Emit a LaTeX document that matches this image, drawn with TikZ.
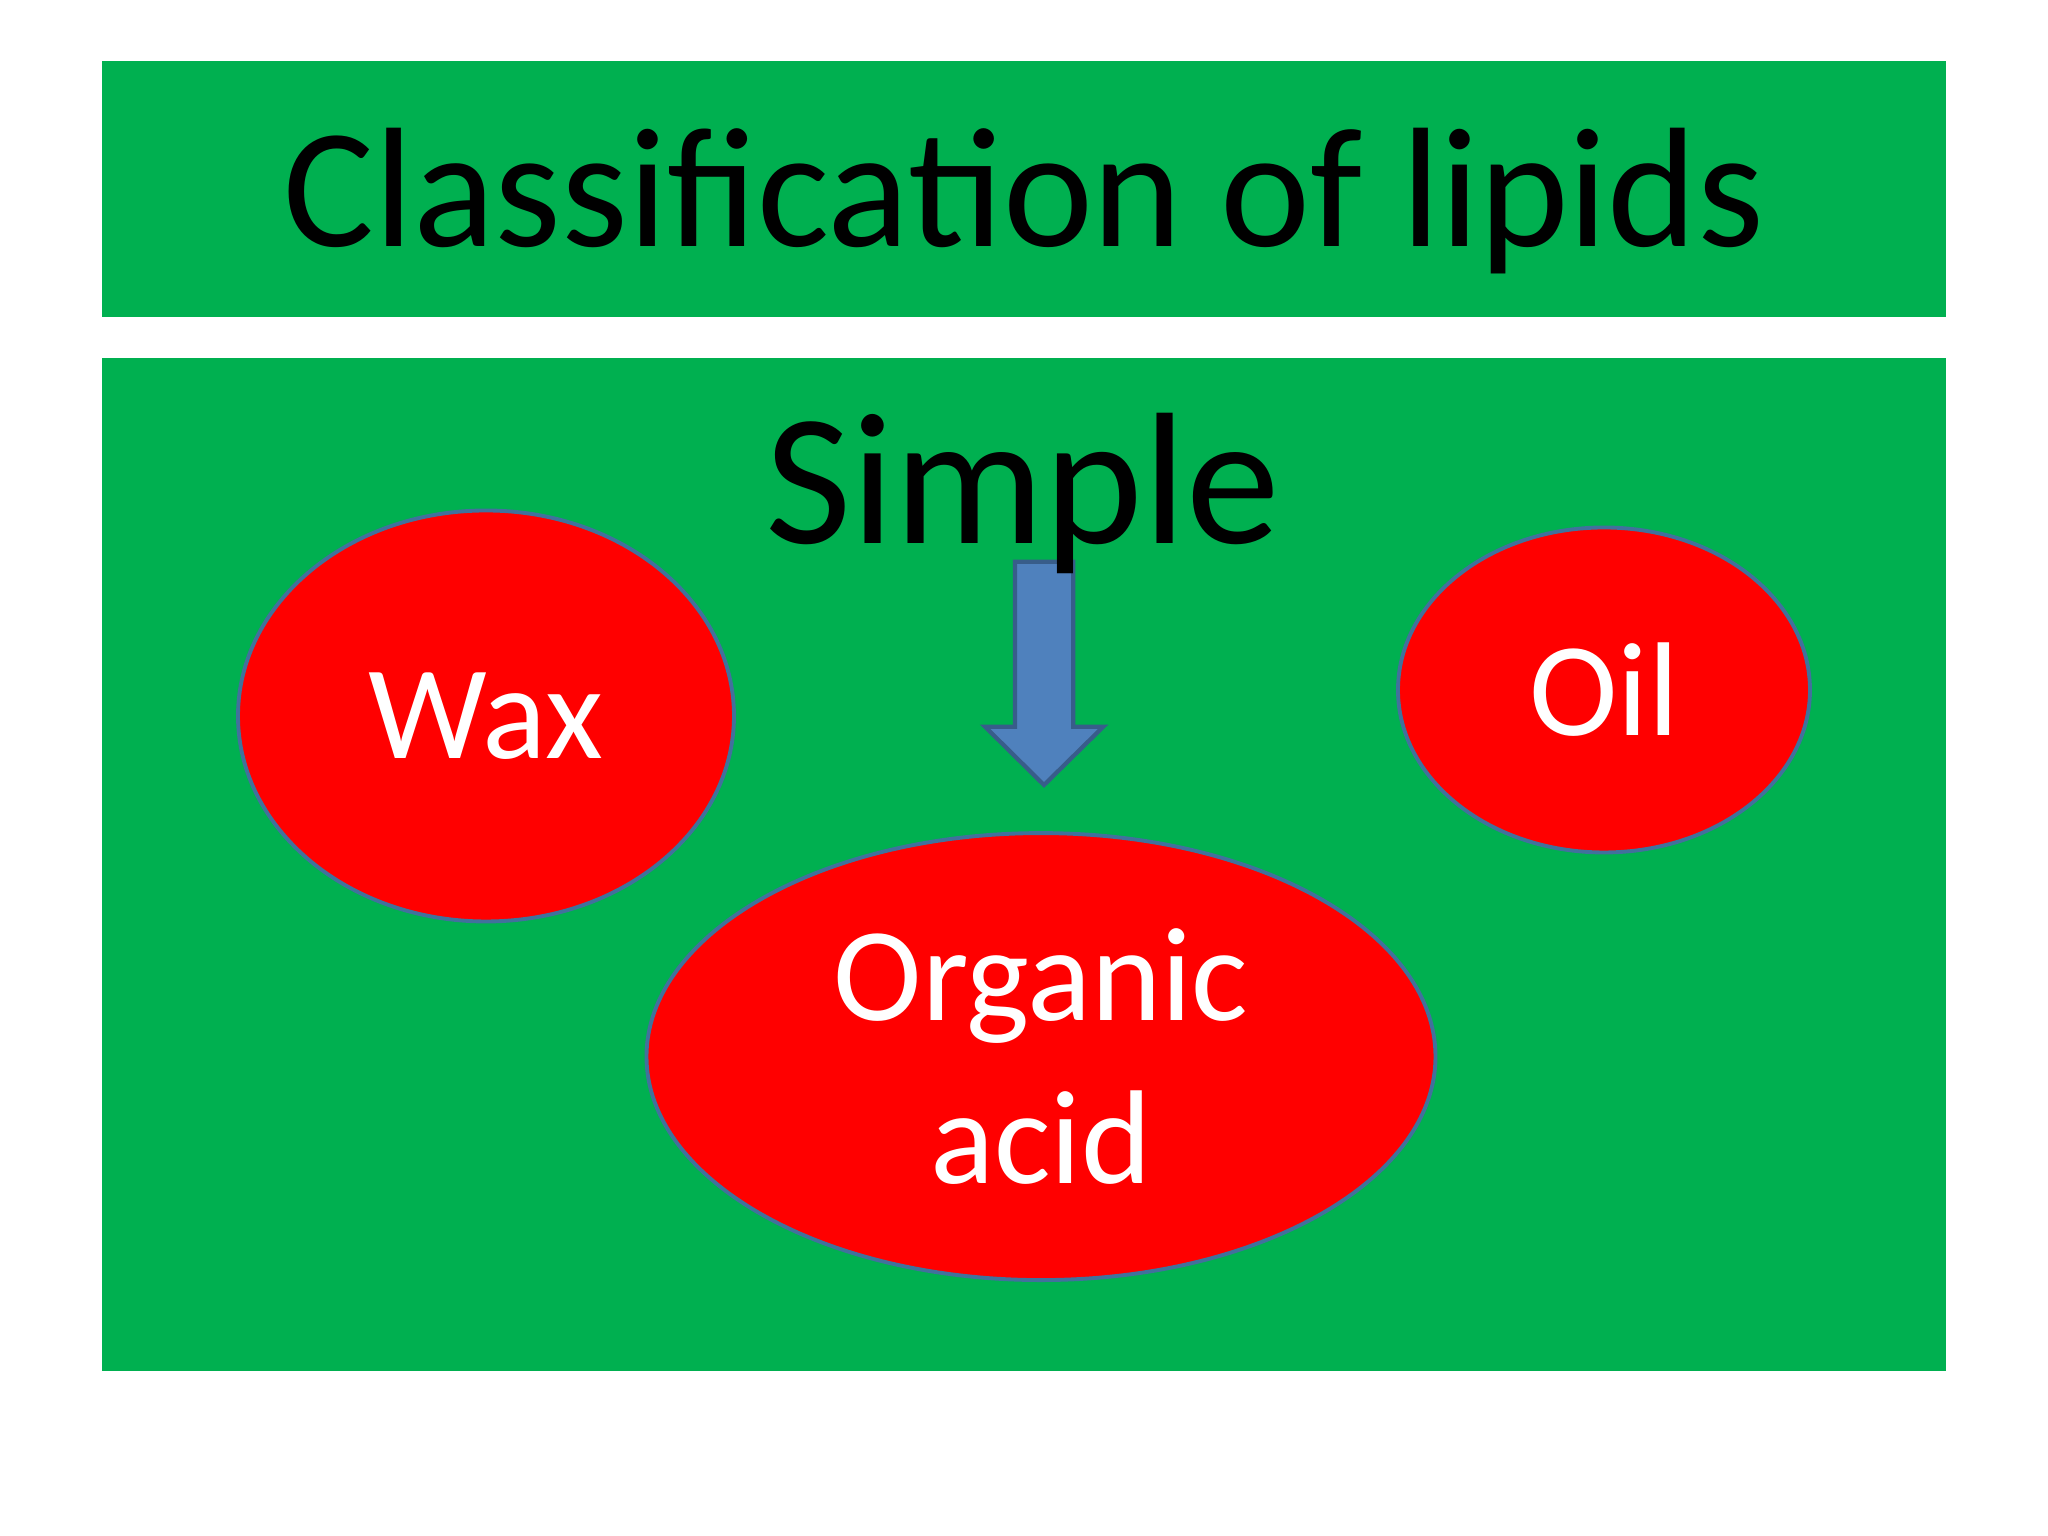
\documentclass[tikz,border=0pt]{standalone}
\usepackage{fontspec}
\setmainfont{Carlito}
\usepackage{xcolor}
\usepackage{tikz}
\usetikzlibrary{shapes.geometric}
\usetikzlibrary{positioning}

\definecolor{slidegreen}{HTML}{00B050}
\definecolor{blobred}{HTML}{FF0000}
\definecolor{edgeblue}{HTML}{41719C}
\definecolor{arrowblue}{HTML}{4F81BD}
\definecolor{arrowedge}{HTML}{385D8A}

\begin{document}
\begin{tikzpicture}[
  panel/.style={fill=slidegreen,draw=none},
  blob/.style={ellipse,fill=blobred,draw=edgeblue,line width=1.1pt,text=white,inner sep=0pt,
    font=\fontsize{38}{46.5}\selectfont,align=center}]
 	\useasboundingbox[fill=white] (0,0) rectangle (20.48,15.36);
 	\fill[panel] (1.019,14.746) rectangle (19.461,12.186);
 	\fill[panel] (1.019,11.781) rectangle (19.461,1.646);
 	\node[anchor=base] (title) at (10.24,12.89) {\fontsize{48.5}{58}\selectfont Classification of lipids};
 	% blocks
 	\node[blob,minimum width=4.96cm,minimum height=4.11cm] (wax) at (4.86,8.20) {Wax};
 	\node[blob,minimum width=4.12cm,minimum height=3.25cm] (oil) at (16.04,8.46) {Oil};
 	\node[blob,minimum width=7.89cm,minimum height=4.47cm] (acid) at (10.41,4.794) {Organic\\acid};
 	\draw[fill=arrowblue,draw=arrowedge,line width=1.2pt,line join=miter]
 	(10.15,9.743) -- (10.733,9.743) -- (10.733,8.093) -- (11.033,8.093) -- (10.44,7.51)
 	-- (9.85,8.093) -- (10.15,8.093) -- cycle;
 	\node[anchor=base] (simple) at (10.226,9.92) {\fontsize{53.4}{64}\selectfont Simple};
\end{tikzpicture}
\end{document}
